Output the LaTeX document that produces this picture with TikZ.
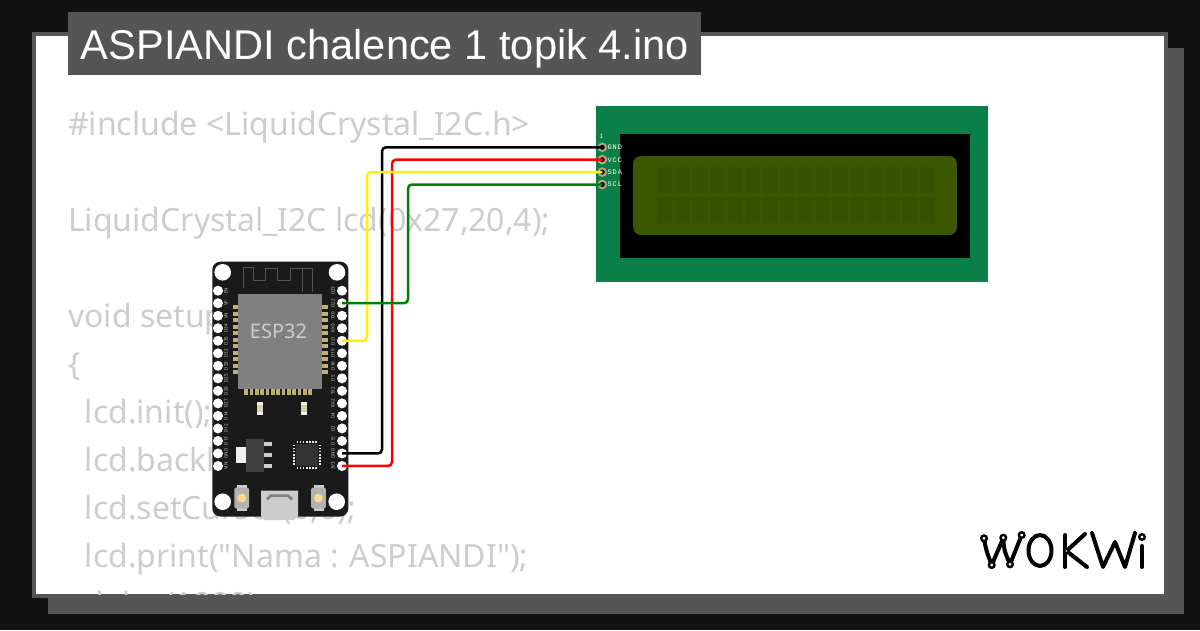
\documentclass[tikz,border=0pt]{standalone}
\usepackage{fontspec}
\newfontfamily\codefont{Noto Sans}
\newfontfamily\titlefont{Liberation Sans}
\newfontfamily\pinfont[LetterSpace=15]{Liberation Mono}
\definecolor{pageblack}{HTML}{111111}
\definecolor{framegray}{HTML}{555555}
\definecolor{codegray}{HTML}{CDCDCD}
\definecolor{boardblack}{HTML}{1A1A1A}
\definecolor{padgold}{HTML}{BFB176}
\definecolor{lcdgreen}{HTML}{0B7F48}
\definecolor{lcdscreen}{HTML}{3B5700}
\definecolor{lcdcell}{HTML}{375200}
\definecolor{pintan}{HTML}{B3A77F}
\definecolor{wiregreen}{HTML}{008000}
\definecolor{partgray}{HTML}{CCCCCC}
\definecolor{capyellow}{HTML}{FFD98A}
\tikzset{
    codeline/.style={anchor=base west, inner sep=0pt, text=codegray, font=\codefont\fontsize{32}{32}\selectfont},
    esppin/.style={circle, fill=white, minimum size=10pt, inner sep=0pt},
    esplabel/.style={rotate=90, inner sep=0pt, text=codegray, font=\codefont\fontsize{4.5}{4.5}\selectfont},
    lcdpin/.style={circle, draw=pintan, line width=2pt, fill=black, minimum size=7.5pt, inner sep=0pt},
    lcdlabel/.style={anchor=west, inner sep=0pt, text=white, font=\pinfont\fontsize{7}{7}\selectfont},
    wire/.style={line width=2.5pt, rounded corners=4pt},
    logoline/.style={line width=4pt, line cap=round, line join=round},
    logodot/.style={line width=2.4pt, fill=white},
}
\begin{document}
\begin{tikzpicture}[x=1pt, y=-1pt]
    % Page and frame
    \useasboundingbox (0, 0) rectangle (1200, 630);
    \fill[pageblack] (0, 0) rectangle (1200, 630);
    \fill[framegray] (48, 48) rectangle (1184, 614);
    \fill[framegray] (32, 32) rectangle (1168, 598);
    \fill[white] (36, 36) rectangle (1164, 594);

    % Sketch code behind the parts
    \begin{scope}
        \clip (36, 36) rectangle (1164, 594);
        \foreach \n/\txt in {0/{\#include <LiquidCrystal\_I2C.h>},
                             2/{LiquidCrystal\_I2C lcd(0x27,20,4);},
                             4/{void setup()},
                             5/{\{},
                             6/{\ \ lcd.init();},
                             7/{\ \ lcd.backlight();},
                             8/{\ \ lcd.setCursor(0,0);},
                             9/{\ \ lcd.print("Nama : ASPIANDI");},
                             10/{\ \ delay(1000);}} {
            \node[codeline] (code\n) at (68, {135 + 48*\n}) {\txt};
        }
    \end{scope}

    % Title bar
    \fill[framegray] (68, 12) rectangle (701, 75);
    \node[anchor=base, text=white, font=\titlefont\fontsize{41.6}{41.6}\selectfont, inner sep=0pt] (title) at (385, 59) {ASPIANDI chalence 1 topik 4.ino};

    % LCD board
    \fill[lcdgreen] (596, 106) rectangle (988, 282);
    \fill[black] (620, 134) rectangle (970, 258);
    \fill[lcdscreen, rounded corners=8pt] (633, 156) rectangle (957, 235);
    \foreach \c in {0, 1, ..., 15} {
        \fill[lcdcell] ({657.3 + 17.5*\c}, 166.7) rectangle ++(15.3, 26.6);
        \fill[lcdcell] ({657.3 + 17.5*\c}, 196.7) rectangle ++(15.3, 26.2);
    }
    \node[lcdlabel, font=\titlefont\fontsize{6}{6}\selectfont] (lcdone) at (599.5, 136) {1};
    \foreach \pin [count=\i from 0] in {GND, VCC, SDA, SCL} {
        \node[lcdpin] (lcd\pin) at (602.3, {147.3 + 12.4*\i}) {};
        \node[lcdlabel] (lcdlabel\pin) at (607.3, {147.3 + 12.4*\i}) {\pin};
    }

    % ESP32 board
    \fill[boardblack, rounded corners=8pt] (212.3, 261.7) rectangle (348.3, 516.5);
    \foreach \hx/\hy in {222.7/272.3, 337/272.3, 222.7/501.7, 336.7/501.7} {
        \fill[white] (\hx, \hy) circle (8.3);
    }

    % Antenna trace
    \draw[framegray, line width=1pt] (243.3, 288) -- (243.3, 267) -- (253, 267) -- (253, 280)
        -- (265, 280) -- (265, 268) -- (277, 268) -- (277, 280) -- (290, 280) -- (290, 268)
        -- (312, 268) -- (312, 292);
    \draw[framegray, line width=1pt] (302, 268) -- (302, 292);

    % ESP32 module and its pads
    \foreach \p in {0, 1, ..., 10} {
        \fill[padgold] (232.5, {307 + 6.5*\p - 2}) rectangle ++(5.2, 4);
        \fill[padgold] (322.3, {307 + 6.5*\p - 2}) rectangle ++(5.2, 4);
    }
    \foreach \p in {0, 1, ..., 12} {
        \fill[padgold] ({246 + 5.35*\p - 1.8}, 389) rectangle ++(3.6, 5.5);
    }
    \fill[gray] (237.7, 294) rectangle (322.3, 389);
    \node[text=codegray, font=\codefont\fontsize{20}{20}\selectfont, inner sep=0pt] (esplogo) at (278.5, 331) {ESP32};

    % ESP32 pin rows
    \foreach \pin [count=\i from 0] in {EN, VP, VN, D34, D35, D32, D33, D25, D26, D27, D14, D12, D13, GND, VIN} {
        \node[esppin] (espL\pin) at (218, {290.7 + 12.52*\i}) {};
        \node[esplabel] (esplabelL\pin) at (226, {290.7 + 12.52*\i}) {\pin};
    }
    \foreach \pin [count=\i from 0] in {D23, D22, TX0, RX0, D21, D19, D18, D5, TX2, RX2, D4, D2, D15, GND, 3V3} {
        \node[esppin] (espR\pin) at (342, {290.7 + 12.52*\i}) {};
        \node[esplabel] (esplabelR\pin) at (333, {290.7 + 12.52*\i}) {\pin};
    }

    % Small parts under the module
    \foreach \sx in {259.5, 303.5} {
        \fill[white!90!gray] (\sx - 3, 401.5) rectangle ++(6, 13);
        \fill[padgold!60!white] (\sx - 3, 404.5) rectangle ++(6, 7);
    }
    \fill[black!75] (245.7, 439.3) rectangle (263.7, 471.7);
    \fill[white!88!gray] (236.3, 447) rectangle (245.7, 462.5);
    \foreach \ty in {444, 454.5, 466} {
        \fill[partgray] (263.7, \ty - 2) rectangle ++(8, 4);
    }
    \fill[black!80] (296, 444) rectangle (318, 466);
    \foreach \q in {0, 1, ..., 6} {
        \fill[white!85!gray] ({297.5 + 3.1*\q - 0.7}, 441) rectangle ++(1.4, 2);
        \fill[white!85!gray] ({297.5 + 3.1*\q - 0.7}, 467) rectangle ++(1.4, 2);
        \fill[white!85!gray] (293, {445.5 + 3.1*\q - 0.7}) rectangle ++(2, 1.4);
        \fill[white!85!gray] (319, {445.5 + 3.1*\q - 0.7}) rectangle ++(2, 1.4);
    }

    % Push buttons
    \foreach \bx in {241.7, 318.5} {
        \fill[partgray] (\bx - 5, 485) rectangle ++(10, 26);
        \fill[black!30, rounded corners=2pt] (\bx - 7.3, 487.5) rectangle ++(14.6, 21);
        \fill[capyellow] (\bx, 498) circle (4.4);
    }

    % USB socket
    \fill[partgray] (261, 490.7) -- (298, 490.7) -- (298, 516) -- (294, 520) -- (265, 520) -- (261, 516) -- cycle;
    \draw[gray, line width=2.5pt, line join=round] (267, 499.5) -- (271, 495.5) -- (288, 495.5) -- (292, 499.5);

    % Wires
    \draw[wire, black] (espRGND.center) -| (382, 147.3) -- (lcdGND.center);
    \draw[wire, red] (espR3V3.center) -| (392, 159.7) -- (lcdVCC.center);
    \draw[wire, yellow] (espRD21.center) -| (367, 172.1) -- (lcdSDA.center);
    \draw[wire, wiregreen] (espRD22.center) -| (408, 184.5) -- (lcdSCL.center);

    % Wokwi logo
    \draw[logoline] (984, 538) .. controls (986, 550) .. (991.7, 565) -- (1003.3, 538) .. controls (1004, 550) .. (1010, 564.3) -- (1021.7, 535);
    \foreach \lx/\ly in {984/538.3, 1003.3/537.7, 1021.7/535, 991.7/565, 1010/564.3} {
        \draw[logodot] (\lx, \ly) circle (2.8);
    }
    \draw[logoline] (1040, 550.5) ellipse (11.5 and 15.5);
    \draw[logoline] (1065, 535) -- (1065, 567);
    \draw[logoline] (1085, 534) -- (1066.5, 551) -- (1087, 567);
    \draw[logodot] (1066.5, 551) circle (2.2);
    \draw[logoline] (1092, 533) -- (1103, 567) -- (1115, 542) -- (1125, 567) -- (1135, 533);
    \draw[logoline] (1142, 546) -- (1142, 567);
    \draw[logodot] (1142, 537) circle (2.8);
\end{tikzpicture}
\end{document}
